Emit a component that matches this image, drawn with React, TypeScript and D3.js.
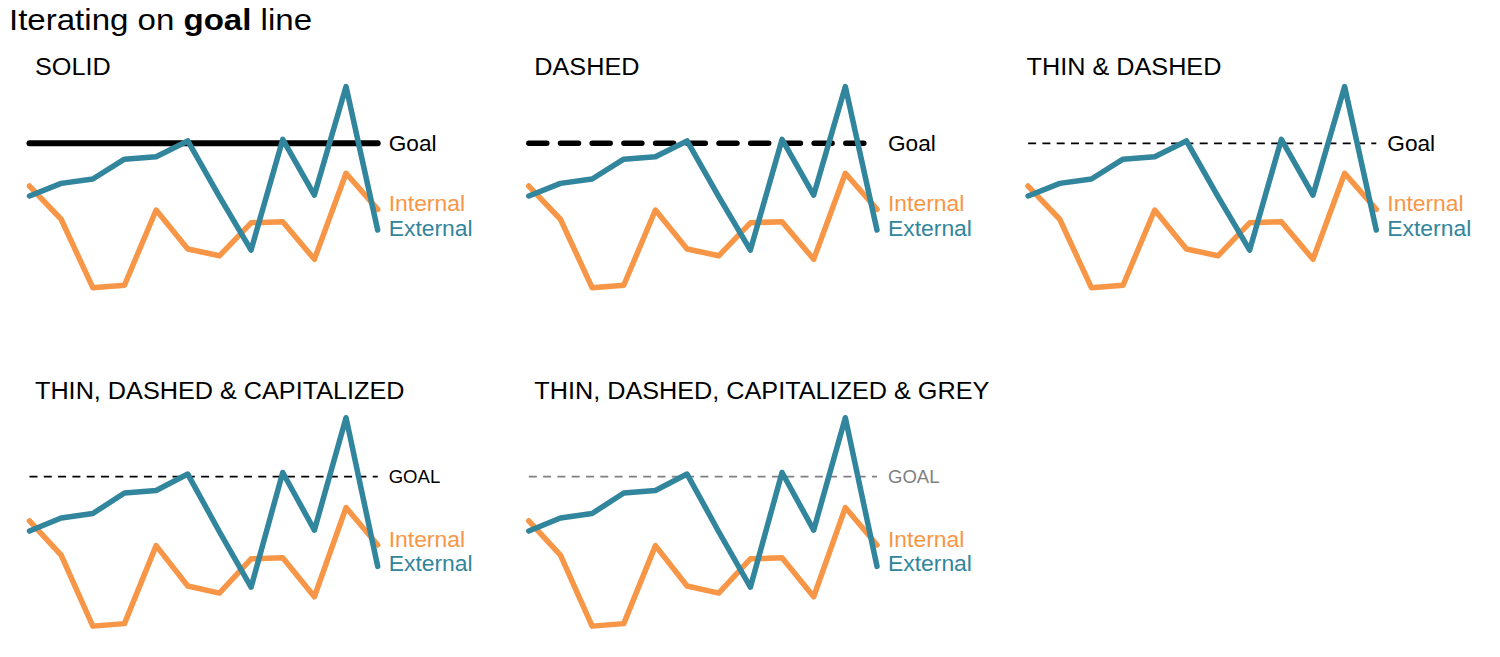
import React, { useEffect } from "react";
import * as d3 from "d3";

// ---- data ----
const months = ["Jan", "Feb", "Mar", "Apr", "May", "Jun", "Jul", "Aug", "Sep", "Oct", "Nov", "Dec"];
const internalValues = [51.8, 36.7, 5.6, 6.7, 40.9, 23.2, 20.1, 35.1, 35.6, 18.5, 57.6, 41.2];
const externalValues = [47.3, 53.0, 55.0, 64.0, 65.1, 72.3, 47.0, 22.7, 73.0, 47.7, 97.0, 31.8];
const goalValue = 71.2;
const panelTitles = [
  "SOLID",
  "DASHED",
  "THIN & DASHED",
  "THIN, DASHED & CAPITALIZED",
  "THIN, DASHED, CAPITALIZED & GREY",
];
const goalLabels = ["Goal", "Goal", "Goal", "GOAL", "GOAL"];
const seriesNames = ["Internal", "External"];

// ---- styles ----
const ORANGE = "#F79646";
const TEAL = "#31859C";
const FONT = "'Liberation Sans', Arial, Helvetica, sans-serif";

const goalStyles = [
  { width: 6, dash: null, color: "#000000", labelColor: "#000000", labelSize: 22 },
  { width: 5.5, dash: "18 13.7", color: "#000000", labelColor: "#000000", labelSize: 22 },
  { width: 1.7, dash: "8 6.3", color: "#000000", labelColor: "#000000", labelSize: 22 },
  { width: 1.7, dash: "8 6.3", color: "#000000", labelColor: "#000000", labelSize: 18 },
  { width: 1.7, dash: "8 6.3", color: "#808080", labelColor: "#7f7f7f", labelSize: 18 },
];

const COL_W = 499.3;
const titleOffsets = [35, 35, 28, 35, 35];
const rowLayout = [
  { yRange: [300, 80], titleY: 74.5 },
  { yRange: [638.9, 410.9], titleY: 399.3 },
];

function Panel({ idx }: { idx: number }) {
  const col = idx % 3;
  const row = Math.floor(idx / 3);
  const ox = col * COL_W;
  const style = goalStyles[idx];
  const layout = rowLayout[row];

  const x = d3.scalePoint<string>().domain(months).range([ox + 29.5, ox + 377.7]);
  const y = d3.scaleLinear().domain([0, 100]).range(layout.yRange);

  const line = d3
    .line<number>()
    .x((_, i) => x(months[i]) as number)
    .y((d) => y(d));

  const x0 = x(months[0]) as number;
  const x1 = x(months[months.length - 1]) as number;
  const gy = y(goalValue);
  const lastInt = y(internalValues[internalValues.length - 1]);
  const intBase = lastInt + 2;
  const extBase = intBase + 24.3;
  const labelX = x1 + 11;

  return (
    <g>
      <text
        transform={`translate(${ox + titleOffsets[idx]},${layout.titleY}) scale(1.03,1)`}
        fontSize={24.5}
        fontFamily={FONT}
        fill="#000"
      >
        {panelTitles[idx]}
      </text>
      <line
        x1={x0}
        x2={x1}
        y1={gy}
        y2={gy}
        stroke={style.color}
        strokeWidth={style.width}
        strokeDasharray={style.dash ?? undefined}
        strokeLinecap={style.width > 3 ? "round" : "butt"}
      />
      <path d={line(internalValues) ?? ""} fill="none" stroke={ORANGE} strokeWidth={5.5} strokeLinejoin="round" strokeLinecap="round" />
      <path d={line(externalValues) ?? ""} fill="none" stroke={TEAL} strokeWidth={5.5} strokeLinejoin="round" strokeLinecap="round" />
      <text
        transform={`translate(${labelX},${gy}) scale(1.03,1)`}
        dy="0.36em"
        fontSize={style.labelSize}
        fontFamily={FONT}
        fill={style.labelColor}
      >
        {goalLabels[idx]}
      </text>
      <text transform={`translate(${labelX},${intBase}) scale(1.04,1)`} fontSize={22} fontFamily={FONT} fill={ORANGE}>
        {seriesNames[0]}
      </text>
      <text transform={`translate(${labelX},${extBase}) scale(1.04,1)`} fontSize={22} fontFamily={FONT} fill={TEAL}>
        {seriesNames[1]}
      </text>
    </g>
  );
}

export default function App() {
  useEffect(() => {
    document.body.style.margin = "0";
  }, []);
  return (
    <svg
      width={1500}
      height={657}
      viewBox="0 0 1500 657"
      style={{ display: "block", position: "absolute", left: 0, top: 0, background: "#fff" }}
    >
      <rect x={0} y={0} width={1500} height={657} fill="#fff" />
      <text transform="translate(9,30) scale(1.14,1)" fontSize={29} fontFamily={FONT} fill="#000">
        Iterating on <tspan fontWeight="bold">goal</tspan> line
      </text>
      {panelTitles.map((_, i) => (
        <Panel key={i} idx={i} />
      ))}
    </svg>
  );
}
